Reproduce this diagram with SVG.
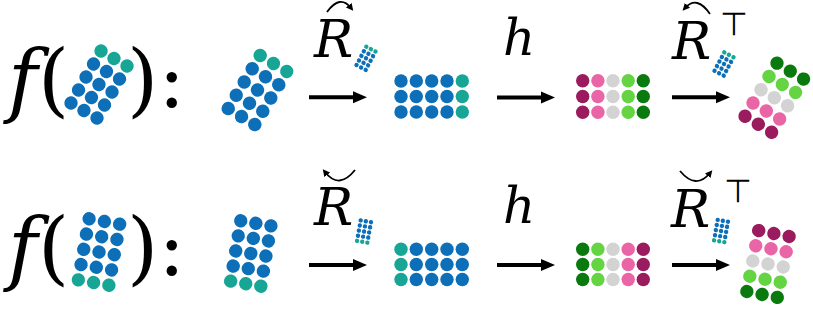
<svg xmlns="http://www.w3.org/2000/svg" width="813" height="309" viewBox="0 0 813 309">
<style>
.b{fill:#0d6fb8}.t{fill:#17a596}.m{fill:#9a1b5e}.p{fill:#ea65a6}.g{fill:#d3d3d3}.l{fill:#64d443}.d{fill:#0a7a0e}
.big{font-family:"DejaVu Serif","Liberation Serif",serif;font-size:80px;fill:#000}
.lab{font-family:"DejaVu Serif","Liberation Serif",serif;font-style:italic;font-size:52px;fill:#000}
.hl{font-family:"DejaVu Serif","Liberation Serif",serif;font-style:italic;font-size:50px;fill:#000}
.top{font-family:"DejaVu Sans",sans-serif;font-size:32px;fill:#000}
.sh{stroke:#000;stroke-width:4;fill:none}
.arc{stroke:#000;stroke-width:1.8;fill:none}
</style>
<defs>
<marker id="ah" viewBox="0 0 10 10" refX="5" refY="5" markerWidth="4" markerHeight="4" orient="auto" markerUnits="strokeWidth">
<path d="M0,0 L10,5 L0,10 z" fill="#000"/>
</marker>
</defs>

<g id="f-top">
<text class="big" x="8" y="107"><tspan font-style="italic">f</tspan><tspan x="38">(</tspan></text>
<text class="big" x="127" y="107">):</text>
</g>
<g id="in-top" transform="translate(99,84.5) rotate(30)">
<circle class="t" cx="-15" cy="-30" r="6.7"/><circle class="t" cx="0" cy="-30" r="6.7"/><circle class="t" cx="15" cy="-30" r="6.7"/>
<circle class="b" cx="-15" cy="-15" r="6.7"/><circle class="b" cx="0" cy="-15" r="6.7"/><circle class="b" cx="15" cy="-15" r="6.7"/>
<circle class="b" cx="-15" cy="0" r="6.7"/><circle class="b" cx="0" cy="0" r="6.7"/><circle class="b" cx="15" cy="0" r="6.7"/>
<circle class="b" cx="-15" cy="15" r="6.7"/><circle class="b" cx="0" cy="15" r="6.7"/><circle class="b" cx="15" cy="15" r="6.7"/>
<circle class="b" cx="-15" cy="30" r="6.7"/><circle class="b" cx="0" cy="30" r="6.7"/><circle class="b" cx="15" cy="30" r="6.7"/>
</g>
<g id="g1-top" transform="translate(257.5,90) rotate(31)">
<circle class="t" cx="-15.5" cy="-31" r="6.7"/><circle class="t" cx="0" cy="-31" r="6.7"/><circle class="t" cx="15.5" cy="-31" r="6.7"/>
<circle class="b" cx="-15.5" cy="-15.5" r="6.7"/><circle class="b" cx="0" cy="-15.5" r="6.7"/><circle class="b" cx="15.5" cy="-15.5" r="6.7"/>
<circle class="b" cx="-15.5" cy="0" r="6.7"/><circle class="b" cx="0" cy="0" r="6.7"/><circle class="b" cx="15.5" cy="0" r="6.7"/>
<circle class="b" cx="-15.5" cy="15.5" r="6.7"/><circle class="b" cx="0" cy="15.5" r="6.7"/><circle class="b" cx="15.5" cy="15.5" r="6.7"/>
<circle class="b" cx="-15.5" cy="31" r="6.7"/><circle class="b" cx="0" cy="31" r="6.7"/><circle class="b" cx="15.5" cy="31" r="6.7"/>
</g>
<g id="lab1-top">
<text class="lab" x="314" y="57">R</text>
<path class="arc" d="M327,12 Q340,-6 351,8" marker-end="url(#ah)"/>
<g transform="translate(366,58.3) rotate(28)">
<circle class="t" cx="-5.2" cy="-10.4" r="2.2"/><circle class="t" cx="0" cy="-10.4" r="2.2"/><circle class="t" cx="5.2" cy="-10.4" r="2.2"/>
<circle class="b" cx="-5.2" cy="-5.2" r="2.2"/><circle class="b" cx="0" cy="-5.2" r="2.2"/><circle class="b" cx="5.2" cy="-5.2" r="2.2"/>
<circle class="b" cx="-5.2" cy="0" r="2.2"/><circle class="b" cx="0" cy="0" r="2.2"/><circle class="b" cx="5.2" cy="0" r="2.2"/>
<circle class="b" cx="-5.2" cy="5.2" r="2.2"/><circle class="b" cx="0" cy="5.2" r="2.2"/><circle class="b" cx="5.2" cy="5.2" r="2.2"/>
<circle class="b" cx="-5.2" cy="10.4" r="2.2"/><circle class="b" cx="0" cy="10.4" r="2.2"/><circle class="b" cx="5.2" cy="10.4" r="2.2"/>
</g>
</g>
<g id="g2-top">
<circle class="b" cx="401" cy="81" r="6.7"/><circle class="b" cx="416.3" cy="81" r="6.7"/><circle class="b" cx="431.7" cy="81" r="6.7"/><circle class="b" cx="447" cy="81" r="6.7"/><circle class="t" cx="462.3" cy="81" r="6.7"/>
<circle class="b" cx="401" cy="96.5" r="6.7"/><circle class="b" cx="416.3" cy="96.5" r="6.7"/><circle class="b" cx="431.7" cy="96.5" r="6.7"/><circle class="b" cx="447" cy="96.5" r="6.7"/><circle class="t" cx="462.3" cy="96.5" r="6.7"/>
<circle class="b" cx="401" cy="112" r="6.7"/><circle class="b" cx="416.3" cy="112" r="6.7"/><circle class="b" cx="431.7" cy="112" r="6.7"/><circle class="b" cx="447" cy="112" r="6.7"/><circle class="t" cx="462.3" cy="112" r="6.7"/>
</g>
<g id="lab2-top"><text class="hl" x="503" y="55">h</text></g>
<g id="g3-top">
<circle class="m" cx="582.7" cy="80.7" r="6.7"/><circle class="p" cx="597.9" cy="80.7" r="6.7"/><circle class="g" cx="613" cy="80.7" r="6.7"/><circle class="l" cx="628.2" cy="80.7" r="6.7"/><circle class="d" cx="643.3" cy="80.7" r="6.7"/>
<circle class="m" cx="582.7" cy="96.5" r="6.7"/><circle class="p" cx="597.9" cy="96.5" r="6.7"/><circle class="g" cx="613" cy="96.5" r="6.7"/><circle class="l" cx="628.2" cy="96.5" r="6.7"/><circle class="d" cx="643.3" cy="96.5" r="6.7"/>
<circle class="m" cx="582.7" cy="112.3" r="6.7"/><circle class="p" cx="597.9" cy="112.3" r="6.7"/><circle class="g" cx="613" cy="112.3" r="6.7"/><circle class="l" cx="628.2" cy="112.3" r="6.7"/><circle class="d" cx="643.3" cy="112.3" r="6.7"/>
</g>
<g id="lab3-top">
<text class="lab" x="672" y="59">R</text>
<text class="top" x="720" y="35">⊤</text>
<path class="arc" d="M710,14 Q697,-5 685,8" marker-end="url(#ah)"/>
<g transform="translate(724,64) rotate(28)">
<circle class="t" cx="-5.2" cy="-10.4" r="2.2"/><circle class="t" cx="0" cy="-10.4" r="2.2"/><circle class="t" cx="5.2" cy="-10.4" r="2.2"/>
<circle class="b" cx="-5.2" cy="-5.2" r="2.2"/><circle class="b" cx="0" cy="-5.2" r="2.2"/><circle class="b" cx="5.2" cy="-5.2" r="2.2"/>
<circle class="b" cx="-5.2" cy="0" r="2.2"/><circle class="b" cx="0" cy="0" r="2.2"/><circle class="b" cx="5.2" cy="0" r="2.2"/>
<circle class="b" cx="-5.2" cy="5.2" r="2.2"/><circle class="b" cx="0" cy="5.2" r="2.2"/><circle class="b" cx="5.2" cy="5.2" r="2.2"/>
<circle class="b" cx="-5.2" cy="10.4" r="2.2"/><circle class="b" cx="0" cy="10.4" r="2.2"/><circle class="b" cx="5.2" cy="10.4" r="2.2"/>
</g>
</g>
<g id="out-top" transform="translate(774.3,97.7) rotate(31)">
<circle class="d" cx="-15.5" cy="-31" r="6.7"/><circle class="d" cx="0" cy="-31" r="6.7"/><circle class="d" cx="15.5" cy="-31" r="6.7"/>
<circle class="l" cx="-15.5" cy="-15.5" r="6.7"/><circle class="l" cx="0" cy="-15.5" r="6.7"/><circle class="l" cx="15.5" cy="-15.5" r="6.7"/>
<circle class="g" cx="-15.5" cy="0" r="6.7"/><circle class="g" cx="0" cy="0" r="6.7"/><circle class="g" cx="15.5" cy="0" r="6.7"/>
<circle class="p" cx="-15.5" cy="15.5" r="6.7"/><circle class="p" cx="0" cy="15.5" r="6.7"/><circle class="p" cx="15.5" cy="15.5" r="6.7"/>
<circle class="m" cx="-15.5" cy="31" r="6.7"/><circle class="m" cx="0" cy="31" r="6.7"/><circle class="m" cx="15.5" cy="31" r="6.7"/>
</g>

<g id="f-bot">
<text class="big" x="8" y="275"><tspan font-style="italic">f</tspan><tspan x="38">(</tspan></text>
<text class="big" x="127" y="275">):</text>
</g>
<g id="in-bot" transform="translate(99,252) rotate(10)">
<circle class="b" cx="-15.5" cy="-31" r="6.7"/><circle class="b" cx="0" cy="-31" r="6.7"/><circle class="b" cx="15.5" cy="-31" r="6.7"/>
<circle class="b" cx="-15.5" cy="-15.5" r="6.7"/><circle class="b" cx="0" cy="-15.5" r="6.7"/><circle class="b" cx="15.5" cy="-15.5" r="6.7"/>
<circle class="b" cx="-15.5" cy="0" r="6.7"/><circle class="b" cx="0" cy="0" r="6.7"/><circle class="b" cx="15.5" cy="0" r="6.7"/>
<circle class="b" cx="-15.5" cy="15.5" r="6.7"/><circle class="b" cx="0" cy="15.5" r="6.7"/><circle class="b" cx="15.5" cy="15.5" r="6.7"/>
<circle class="t" cx="-15.5" cy="31" r="6.7"/><circle class="t" cx="0" cy="31" r="6.7"/><circle class="t" cx="15.5" cy="31" r="6.7"/>
</g>
<g id="g1-bot" transform="translate(250.8,253.5) rotate(9.5)">
<circle class="b" cx="-15.3" cy="-30.6" r="6.7"/><circle class="b" cx="0" cy="-30.6" r="6.7"/><circle class="b" cx="15.3" cy="-30.6" r="6.7"/>
<circle class="b" cx="-15.3" cy="-15.3" r="6.7"/><circle class="b" cx="0" cy="-15.3" r="6.7"/><circle class="b" cx="15.3" cy="-15.3" r="6.7"/>
<circle class="b" cx="-15.3" cy="0" r="6.7"/><circle class="b" cx="0" cy="0" r="6.7"/><circle class="b" cx="15.3" cy="0" r="6.7"/>
<circle class="b" cx="-15.3" cy="15.3" r="6.7"/><circle class="b" cx="0" cy="15.3" r="6.7"/><circle class="b" cx="15.3" cy="15.3" r="6.7"/>
<circle class="t" cx="-15.3" cy="30.6" r="6.7"/><circle class="t" cx="0" cy="30.6" r="6.7"/><circle class="t" cx="15.3" cy="30.6" r="6.7"/>
</g>
<g id="lab1-bot">
<text class="lab" x="314" y="225">R</text>
<path class="arc" d="M355,170 Q339,190 325,172" marker-end="url(#ah)"/>
<g transform="translate(364,231.5) rotate(10)">
<circle class="b" cx="-5.2" cy="-10.4" r="2.2"/><circle class="b" cx="0" cy="-10.4" r="2.2"/><circle class="b" cx="5.2" cy="-10.4" r="2.2"/>
<circle class="b" cx="-5.2" cy="-5.2" r="2.2"/><circle class="b" cx="0" cy="-5.2" r="2.2"/><circle class="b" cx="5.2" cy="-5.2" r="2.2"/>
<circle class="b" cx="-5.2" cy="0" r="2.2"/><circle class="b" cx="0" cy="0" r="2.2"/><circle class="b" cx="5.2" cy="0" r="2.2"/>
<circle class="b" cx="-5.2" cy="5.2" r="2.2"/><circle class="b" cx="0" cy="5.2" r="2.2"/><circle class="b" cx="5.2" cy="5.2" r="2.2"/>
<circle class="t" cx="-5.2" cy="10.4" r="2.2"/><circle class="t" cx="0" cy="10.4" r="2.2"/><circle class="t" cx="5.2" cy="10.4" r="2.2"/>
</g>
</g>
<g id="g2-bot">
<circle class="t" cx="401" cy="249.3" r="6.7"/><circle class="b" cx="416.3" cy="249.3" r="6.7"/><circle class="b" cx="431.7" cy="249.3" r="6.7"/><circle class="b" cx="447" cy="249.3" r="6.7"/><circle class="b" cx="462.3" cy="249.3" r="6.7"/>
<circle class="t" cx="401" cy="264.5" r="6.7"/><circle class="b" cx="416.3" cy="264.5" r="6.7"/><circle class="b" cx="431.7" cy="264.5" r="6.7"/><circle class="b" cx="447" cy="264.5" r="6.7"/><circle class="b" cx="462.3" cy="264.5" r="6.7"/>
<circle class="t" cx="401" cy="279.5" r="6.7"/><circle class="b" cx="416.3" cy="279.5" r="6.7"/><circle class="b" cx="431.7" cy="279.5" r="6.7"/><circle class="b" cx="447" cy="279.5" r="6.7"/><circle class="b" cx="462.3" cy="279.5" r="6.7"/>
</g>
<g id="lab2-bot"><text class="hl" x="503" y="223">h</text></g>
<g id="g3-bot">
<circle class="d" cx="582.7" cy="249.3" r="6.7"/><circle class="l" cx="597.9" cy="249.3" r="6.7"/><circle class="g" cx="613" cy="249.3" r="6.7"/><circle class="p" cx="628.2" cy="249.3" r="6.7"/><circle class="m" cx="643.3" cy="249.3" r="6.7"/>
<circle class="d" cx="582.7" cy="264.5" r="6.7"/><circle class="l" cx="597.9" cy="264.5" r="6.7"/><circle class="g" cx="613" cy="264.5" r="6.7"/><circle class="p" cx="628.2" cy="264.5" r="6.7"/><circle class="m" cx="643.3" cy="264.5" r="6.7"/>
<circle class="d" cx="582.7" cy="279.5" r="6.7"/><circle class="l" cx="597.9" cy="279.5" r="6.7"/><circle class="g" cx="613" cy="279.5" r="6.7"/><circle class="p" cx="628.2" cy="279.5" r="6.7"/><circle class="m" cx="643.3" cy="279.5" r="6.7"/>
</g>
<g id="lab3-bot">
<text class="lab" x="671" y="227">R</text>
<text class="top" x="724" y="202">⊤</text>
<path class="arc" d="M680,171 Q696,190 710,173" marker-end="url(#ah)"/>
<g transform="translate(721,231) rotate(10)">
<circle class="b" cx="-5.2" cy="-10.4" r="2.2"/><circle class="b" cx="0" cy="-10.4" r="2.2"/><circle class="b" cx="5.2" cy="-10.4" r="2.2"/>
<circle class="b" cx="-5.2" cy="-5.2" r="2.2"/><circle class="b" cx="0" cy="-5.2" r="2.2"/><circle class="b" cx="5.2" cy="-5.2" r="2.2"/>
<circle class="b" cx="-5.2" cy="0" r="2.2"/><circle class="b" cx="0" cy="0" r="2.2"/><circle class="b" cx="5.2" cy="0" r="2.2"/>
<circle class="b" cx="-5.2" cy="5.2" r="2.2"/><circle class="b" cx="0" cy="5.2" r="2.2"/><circle class="b" cx="5.2" cy="5.2" r="2.2"/>
<circle class="t" cx="-5.2" cy="10.4" r="2.2"/><circle class="t" cx="0" cy="10.4" r="2.2"/><circle class="t" cx="5.2" cy="10.4" r="2.2"/>
</g>
</g>
<g id="out-bot" transform="translate(768,264) rotate(11)">
<circle class="m" cx="-15.5" cy="-31" r="6.7"/><circle class="m" cx="0" cy="-31" r="6.7"/><circle class="m" cx="15.5" cy="-31" r="6.7"/>
<circle class="p" cx="-15.5" cy="-15.5" r="6.7"/><circle class="p" cx="0" cy="-15.5" r="6.7"/><circle class="p" cx="15.5" cy="-15.5" r="6.7"/>
<circle class="g" cx="-15.5" cy="0" r="6.7"/><circle class="g" cx="0" cy="0" r="6.7"/><circle class="g" cx="15.5" cy="0" r="6.7"/>
<circle class="l" cx="-15.5" cy="15.5" r="6.7"/><circle class="l" cx="0" cy="15.5" r="6.7"/><circle class="l" cx="15.5" cy="15.5" r="6.7"/>
<circle class="d" cx="-15.5" cy="31" r="6.7"/><circle class="d" cx="0" cy="31" r="6.7"/><circle class="d" cx="15.5" cy="31" r="6.7"/>
</g>

<g id="connectors">
<line class="sh" x1="309" y1="97.3" x2="355" y2="97.3"/><polygon points="353,91.3 367,97.3 353,103.3"/>
<line class="sh" x1="497" y1="97.5" x2="543" y2="97.5"/><polygon points="541,91.5 555,97.5 541,103.5"/>
<line class="sh" x1="672" y1="97.3" x2="718" y2="97.3"/><polygon points="716,91.3 730,97.3 716,103.3"/>
<line class="sh" x1="309" y1="265" x2="355" y2="265"/><polygon points="353,259 367,265 353,271"/>
<line class="sh" x1="497" y1="265" x2="543" y2="265"/><polygon points="541,259 555,265 541,271"/>
<line class="sh" x1="672" y1="265" x2="718" y2="265"/><polygon points="716,259 730,265 716,271"/>
</g>
</svg>
